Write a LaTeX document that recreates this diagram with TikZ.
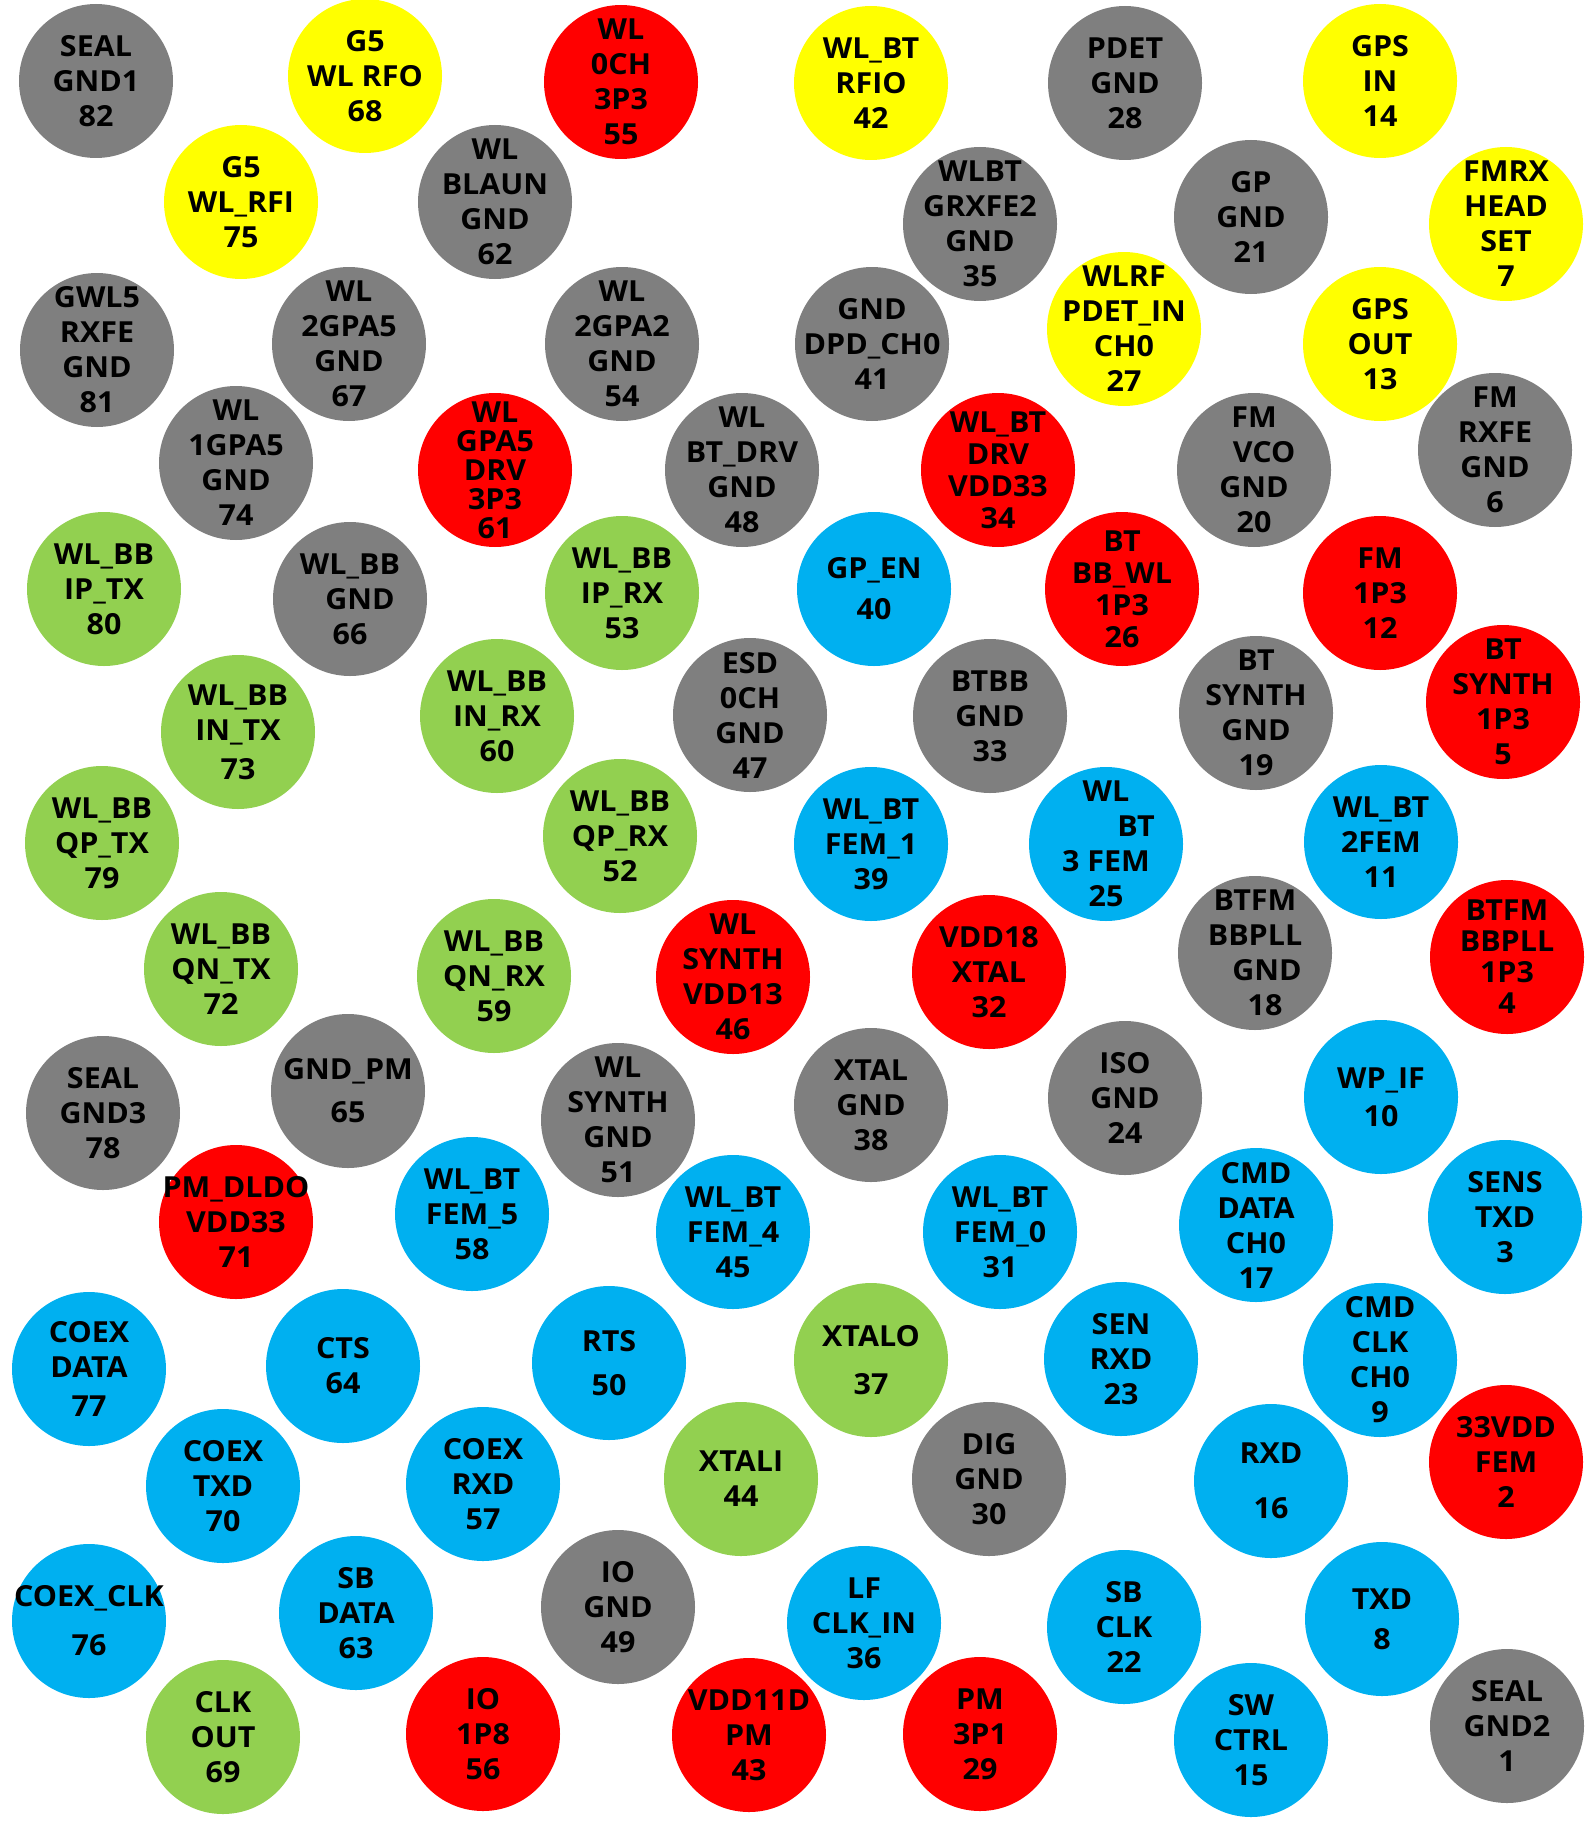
\documentclass[tikz,border=0pt]{standalone}
\usepackage{fontspec}
\setmainfont{Open Sans}[FakeStretch=1.05]
\usepackage{tikz}
\definecolor{gndgray}{RGB}{127,127,127}
\definecolor{rfyellow}{RGB}{255,255,0}
\definecolor{pwrred}{RGB}{255,0,0}
\definecolor{anagreen}{RGB}{146,208,80}
\definecolor{digblue}{RGB}{0,176,240}

\begin{document}
\begin{tikzpicture}[x=1pt,y=-1pt,
    pinlabel/.style={align=center,inner sep=0pt,font=\bfseries\fontsize{29}{35}\selectfont}]
  \def\pinr{77pt}
  \useasboundingbox (0,0) rectangle (1594,1830);
  % pin / x / y / colour / label
  \foreach \n/\x/\y/\c/\t in {
      82/96/81/gndgray/{SEAL\\GND1\\82},
      68/365/76/rfyellow/{G5\\WL RFO\\68},
      55/621/82/pwrred/{WL\\0CH\\3P3\\55},
      42/871/83/rfyellow/{WL\_BT\\RFIO\\42},
      28/1125/83/gndgray/{PDET\\GND\\28},
      14/1380/81/rfyellow/{GPS\\IN\\14},
      75/241/202/rfyellow/{G5\\WL\_RFI\\75},
      62/495/202/gndgray/{WL\\BLAUN\\GND\\62},
      35/980/224/gndgray/{WLBT\\GRXFE2\\GND\\35},
      21/1251/217/gndgray/{GP\\GND\\21},
      7/1506/224/rfyellow/{FMRX\\HEAD\\SET\\7},
      81/97/350/gndgray/{GWL5\\RXFE\\GND\\81},
      67/349/344/gndgray/{WL\\2GPA5\\GND\\67},
      54/622/344/gndgray/{WL\\2GPA2\\GND\\54},
      41/872/344/gndgray/{GND\\DPD\_CH0\\41},
      27/1124/329/rfyellow/{WLRF\\PDET\_IN\\CH0\\27},
      13/1380/344/rfyellow/{GPS\\OUT\\13},
      74/236/463/gndgray/{WL\\1GPA5\\GND\\74},
      61/495/470/pwrred/{WL\\[-6pt]GPA5\\[-6pt]DRV\\[-6pt]3P3\\[-6pt]61},
      48/742/470/gndgray/{WL\\BT\_DRV\\GND\\48},
      34/998/470/pwrred/{WL\_BT\\[-3pt]DRV\\[-3pt]VDD33\\[-3pt]34},
      20/1254/470/gndgray/{FM\\\hspace*{20pt}VCO\\GND\\20},
      6/1495/450/gndgray/{FM\\RXFE\\GND\\6},
      80/104/589/anagreen/{WL\_BB\\IP\_TX\\80},
      66/350/599/gndgray/{WL\_BB\\\hspace*{20pt}GND\\66},
      53/622/593/anagreen/{WL\_BB\\IP\_RX\\53},
      40/874/589/digblue/{GP\_EN\\[6pt]40},
      26/1122/589/pwrred/{BT\\[-3pt]BB\_WL\\[-3pt]1P3\\[-3pt]26},
      12/1380/593/pwrred/{FM\\1P3\\12},
      5/1503/702/pwrred/{BT\\SYNTH\\1P3\\5},
      73/238/732/anagreen/{WL\_BB\\IN\_TX\\[4pt]73},
      60/497/716/anagreen/{WL\_BB\\IN\_RX\\60},
      47/750/715/gndgray/{ESD\\0CH\\GND\\47},
      33/990/716/gndgray/{BTBB\\GND\\33},
      19/1256/713/gndgray/{BT\\SYNTH\\GND\\19},
      79/102/843/anagreen/{WL\_BB\\QP\_TX\\79},
      52/620/836/anagreen/{WL\_BB\\QP\_RX\\52},
      39/871/844/digblue/{WL\_BT\\FEM\_1\\39},
      25/1106/844/digblue/{WL\\\hspace*{60pt}BT\\3 FEM\\25},
      11/1381/842/digblue/{WL\_BT\\2FEM\\11},
      72/221/969/anagreen/{WL\_BB\\QN\_TX\\72},
      59/494/976/anagreen/{WL\_BB\\QN\_RX\\59},
      46/733/977/pwrred/{WL\\SYNTH\\VDD13\\46},
      32/989/972/pwrred/{VDD18\\XTAL\\32},
      18/1255/953/gndgray/{BTFM\\BBPLL\\\hspace*{24pt}GND\\\hspace*{20pt}18},
      4/1507/957/pwrred/{BTFM\\[-4pt]BBPLL\\[-4pt]1P3\\[-4pt]4},
      78/103/1113/gndgray/{SEAL\\GND3\\78},
      65/348/1091/gndgray/{GND\_PM\\[8pt]65},
      51/618/1120/gndgray/{WL\\SYNTH\\GND\\51},
      38/871/1105/gndgray/{XTAL\\GND\\38},
      24/1125/1098/gndgray/{ISO\\GND\\24},
      10/1381/1097/digblue/{WP\_IF\\[3pt]10},
      71/236/1222/pwrred/{PM\_DLDO\\VDD33\\71},
      58/472/1214/digblue/{WL\_BT\\FEM\_5\\58},
      45/733/1232/digblue/{WL\_BT\\FEM\_4\\45},
      31/1000/1232/digblue/{WL\_BT\\FEM\_0\\31},
      17/1256/1225/digblue/{CMD\\DATA\\CH0\\17},
      3/1505/1217/digblue/{SENS\\TXD\\3},
      77/89/1369/digblue/{COEX\\DATA\\[4pt]77},
      64/343/1366/digblue/{CTS\\64},
      50/609/1363/digblue/{RTS\\[9pt]50},
      37/871/1360/anagreen/{XTALO\\[13pt]37},
      23/1121/1359/digblue/{SEN\\RXD\\23},
      9/1380/1360/digblue/{CMD\\CLK\\CH0\\9},
      70/223/1486/digblue/{COEX\\TXD\\70},
      57/483/1484/digblue/{COEX\\RXD\\57},
      44/741/1479/anagreen/{XTALI\\44},
      30/989/1479/gndgray/{DIG\\GND\\30},
      16/1271/1481/digblue/{RXD\\[20pt]16},
      2/1506/1462/pwrred/{33VDD\\FEM\\2},
      76/89/1621/digblue/{COEX\_CLK\\[14pt]76},
      63/356/1613/digblue/{SB\\DATA\\63},
      49/618/1607/gndgray/{IO\\GND\\49},
      36/864/1623/digblue/{LF\\CLK\_IN\\36},
      22/1124/1627/digblue/{SB\\CLK\\22},
      8/1382/1619/digblue/{TXD\\[5pt]8},
      69/223/1737/anagreen/{CLK\\OUT\\69},
      56/483/1734/pwrred/{IO\\1P8\\56},
      43/749/1735/pwrred/{VDD11D\\PM\\43},
      29/980/1734/pwrred/{PM\\3P1\\29},
      15/1251/1740/digblue/{SW\\CTRL\\15},
      1/1507/1726/gndgray/{SEAL\\GND2\\1}}{
    \fill[\c] (\x,\y) circle (\pinr);
    \node[pinlabel] (p\n) at (\x,\y) {\t};
  }
\end{tikzpicture}
\end{document}
